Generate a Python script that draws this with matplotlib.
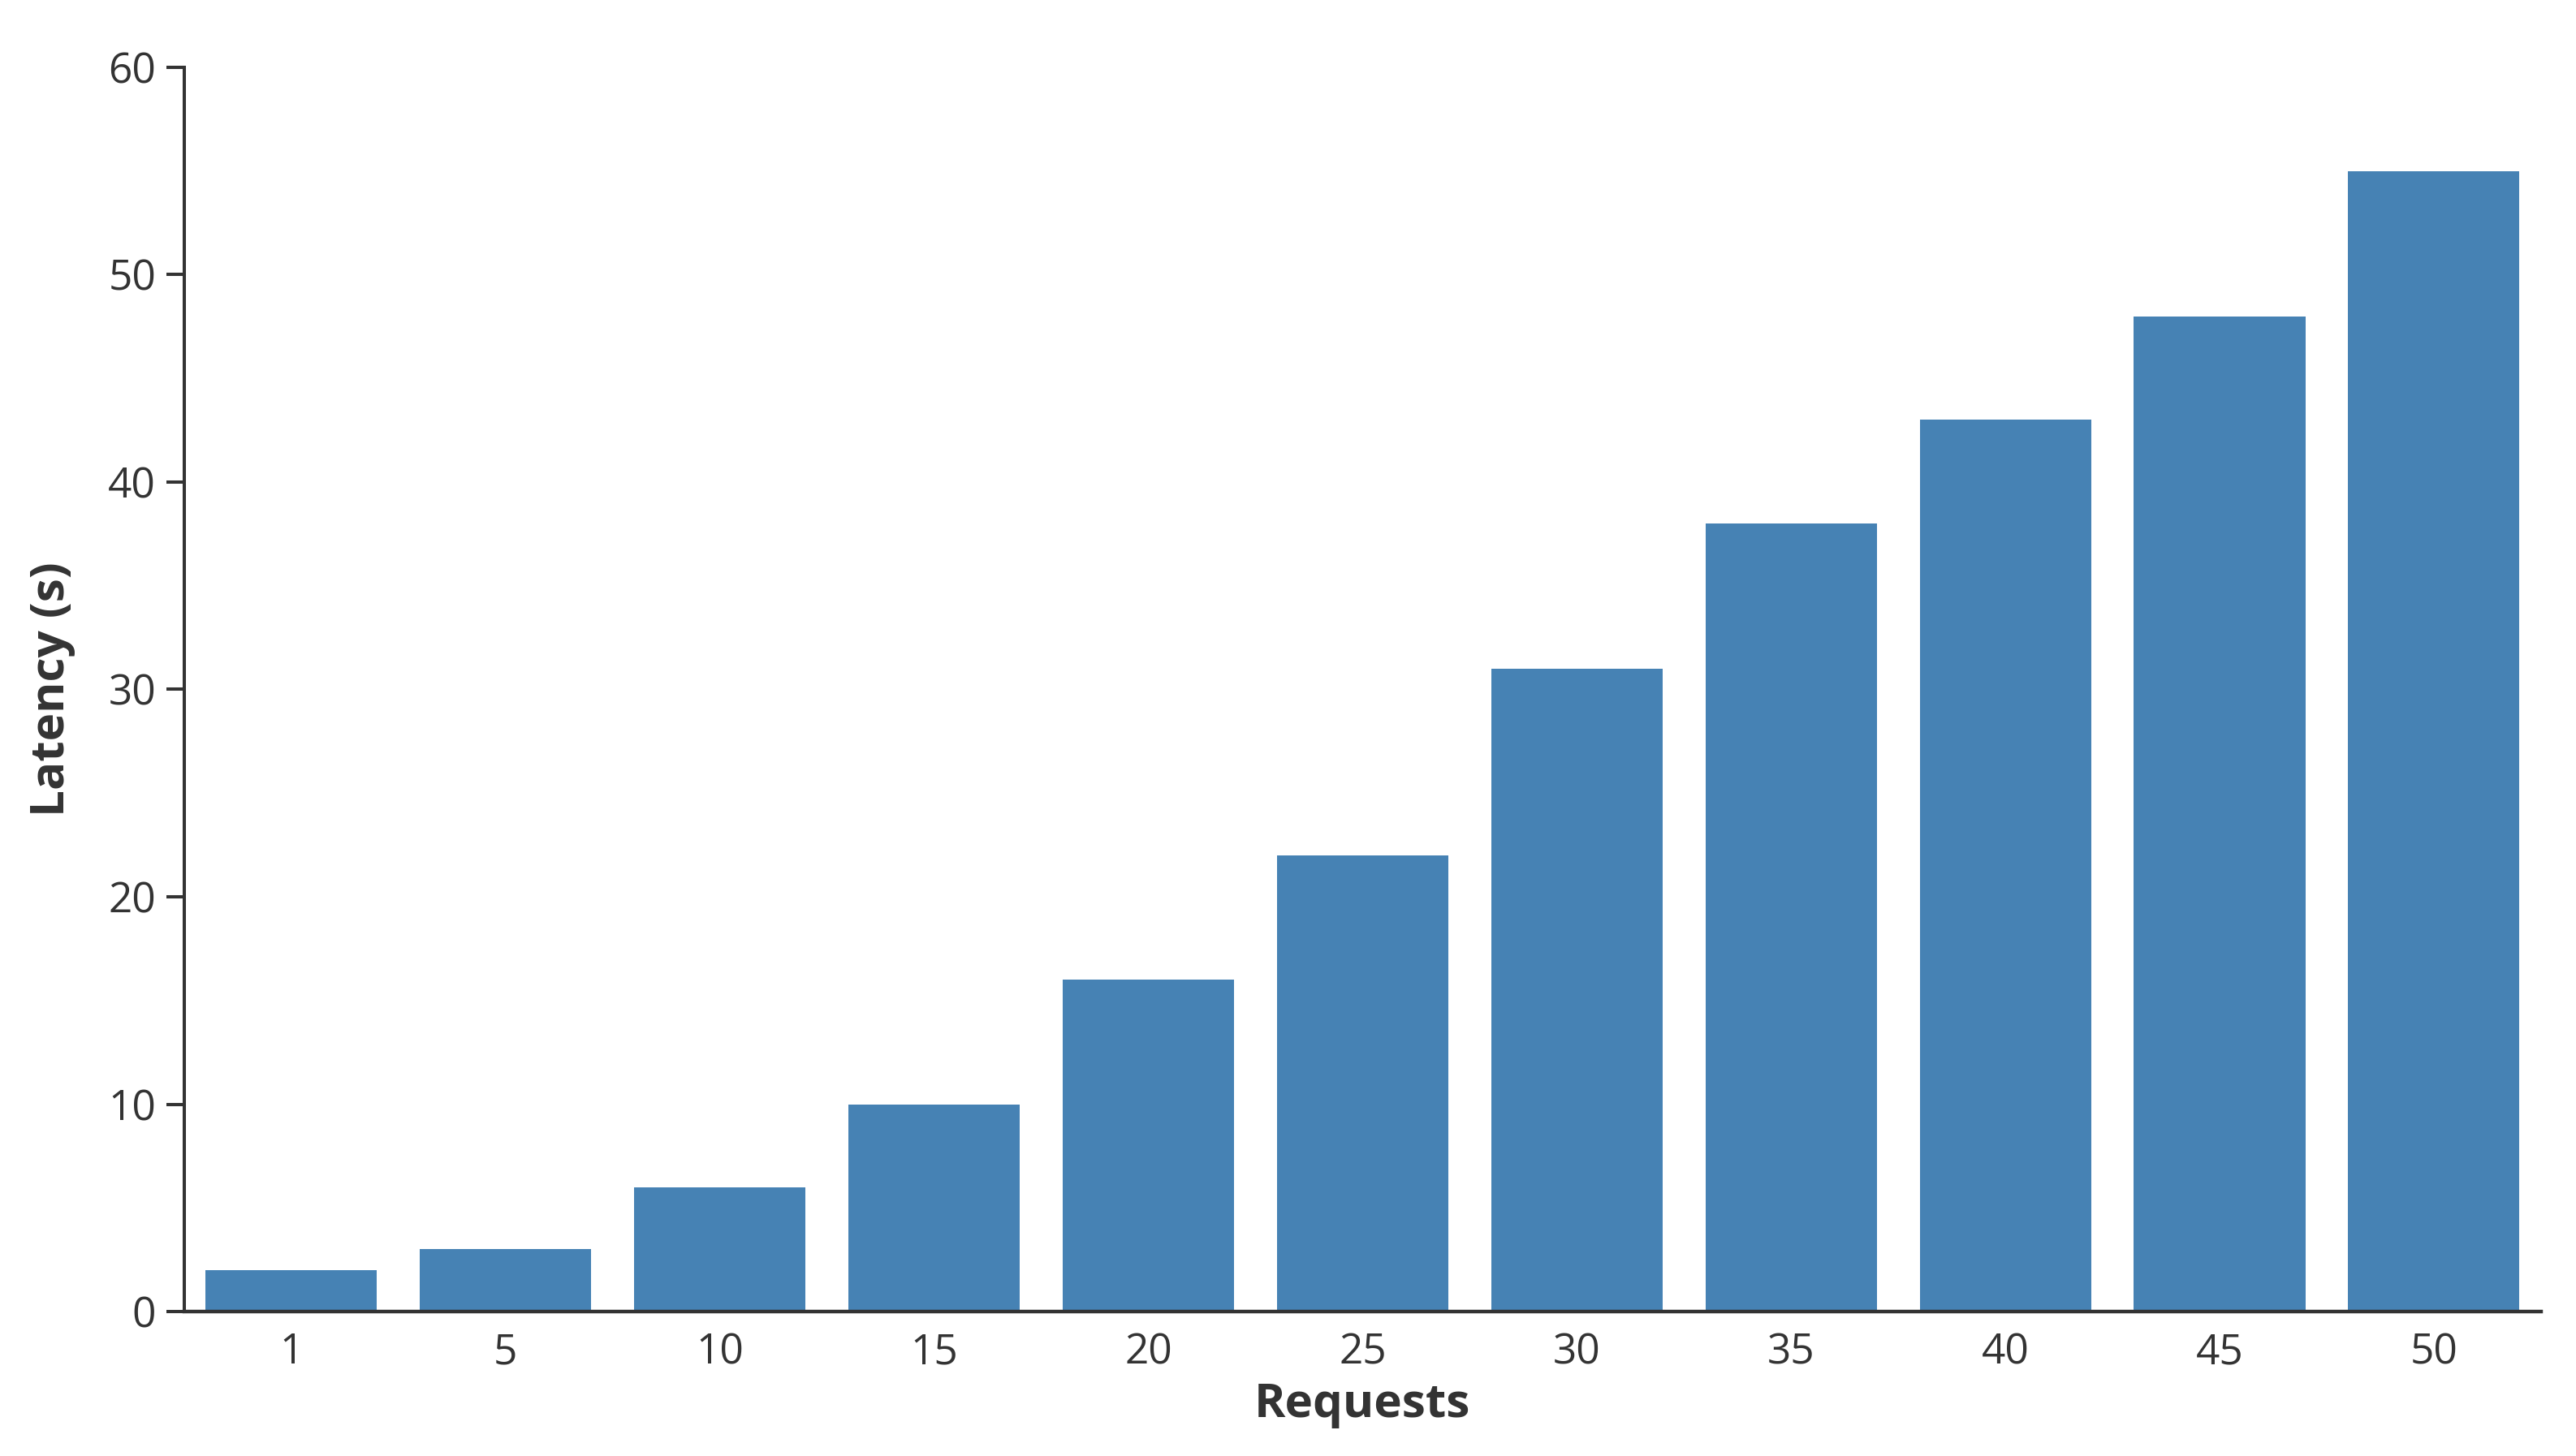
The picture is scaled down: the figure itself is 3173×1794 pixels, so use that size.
import matplotlib
matplotlib.use("Agg")
import matplotlib.pyplot as plt

# Dados do gráfico
requisicoes = ['1', '5', '10', '15', '20', '25', '30', '35', '40', '45', '50']
latencia = [2, 3, 6, 10, 16, 22, 31, 38, 43, 48, 55]
ticks_y = [0, 10, 20, 30, 40, 50, 60]

plt.rcParams['font.family'] = ['Open Sans', 'DejaVu Sans']
cor_texto = '#333333'

fig = plt.figure(figsize=(3173 / 200, 1794 / 200), dpi=200)
ax = fig.add_axes([0.0715, 0.0992, 0.9149, 0.8546])

posicoes = range(len(requisicoes))
ax.bar(posicoes, latencia, width=0.8, color='#4682b4')

ax.set_xlim(-0.5, len(requisicoes) - 0.5)
ax.set_ylim(0, 60)
ax.set_yticks(ticks_y)
ax.set_xticks(list(posicoes))
ax.set_xticklabels(requisicoes)

for lado in ['top', 'right']:
    ax.spines[lado].set_visible(False)
ax.spines['left'].set_linewidth(1.45)
ax.spines['left'].set_color(cor_texto)
ax.spines['bottom'].set_linewidth(1.6)
ax.spines['bottom'].set_color(cor_texto)

ax.tick_params(axis='y', length=8, width=1.45, color=cor_texto, labelsize=18.5, labelcolor=cor_texto, pad=4.5)
ax.tick_params(axis='x', length=0, labelsize=18.5, labelcolor=cor_texto, pad=9)

ax.set_xlabel('Requests', fontsize=21, fontweight='bold', color=cor_texto, labelpad=3.5)
ax.set_ylabel('Latency (s)', fontsize=21, fontweight='bold', color=cor_texto)
ax.yaxis.set_label_coords(-0.0461, 0.5)

fig.savefig('out.png', dpi=200, facecolor='white')
